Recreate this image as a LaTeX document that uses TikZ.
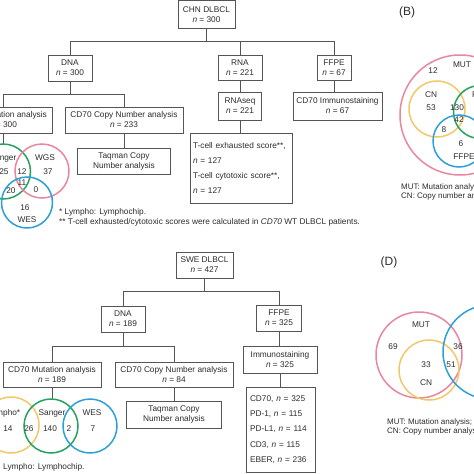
\documentclass[tikz,border=0pt]{standalone}
\usepackage{fontspec}
\setmainfont{Liberation Sans}
\definecolor{txt}{RGB}{45,45,45}
\definecolor{boxc}{RGB}{85,85,85}
\definecolor{pinkc}{RGB}{232,135,158}
\definecolor{greenc}{RGB}{40,160,95}
\definecolor{yellowc}{RGB}{242,200,105}
\definecolor{bluec}{RGB}{45,160,215}
\begin{document}
\begin{tikzpicture}[x=1pt,y=-1pt,
  every node/.style={font=\fontsize{8.3}{10}\selectfont, text=txt, inner sep=0pt},
  box/.style={draw=boxc, line width=1pt, align=center, fill=white},
  conn/.style={draw=boxc, line width=1pt},
  venn/.style={line width=1.5pt},
  note/.style={anchor=west, font=\fontsize{8.3}{9}\selectfont},
  captxt/.style={anchor=west, font=\fontsize{8}{9}\selectfont},
  panel/.style={font=\fontsize{12}{14}\selectfont}]
\path[use as bounding box] (0,0) rectangle (474,474);
\clip (0,0) rectangle (474,474);
\fill[white] (0,0) rectangle (474,474);

% ---------- Panel A (CHN) ----------
\node[box, minimum width=57, minimum height=28] (chn) at (206.5,14.5) {CHN DLBCL\\\textit{n} = 300};
\node[box, minimum width=44, minimum height=26] (dna) at (70,68) {DNA\\\textit{n} = 300};
\node[box, minimum width=44, minimum height=25] (rna) at (240,67.5) {RNA\\\textit{n} = 221};
\node[box, minimum width=34, minimum height=25] (ffpe) at (334,67.5) {FFPE\\\textit{n} = 67};
\node[box, minimum width=98, minimum height=26] (mut1) at (3,120) {CD70 Mutation analysis\\\textit{n} = 300};
\node[box, minimum width=118, minimum height=26] (cn1) at (124,120) {CD70 Copy Number analysis\\\textit{n} = 233};
\node[box, minimum width=93, minimum height=26] (taq1) at (124,161) {Taqman Copy\\Number analysis};
\node[box, minimum width=43, minimum height=28] (rnaseq) at (240,106) {RNAseq\\\textit{n} = 221};
\node[box, minimum width=89, minimum height=28] (immu1) at (337.5,106) {CD70 Immunostaining\\\textit{n} = 67};
\node[box, minimum width=102, minimum height=70, text width=96, align=left,
      font=\fontsize{8.3}{15.3}\selectfont] (tcell) at (241,168)
  {T-cell exhausted score**,\\\textit{n} = 127\\T-cell cytotoxic score**,\\\textit{n} = 127};

\coordinate (busA) at (0,41);
\coordinate (busB) at (0,94);
\draw[conn] (chn.south) -- (chn.south |- busA);
\draw[conn] (dna.north) -- (dna.north |- busA) -- (ffpe.north |- busA) -- (ffpe.north);
\draw[conn] (rna.north) -- (rna.north |- busA);
\draw[conn] (dna.south) -- (dna.south |- busB);
\draw[conn] (mut1.north) -- (mut1.north |- busB) -- (cn1.north |- busB) -- (cn1.north);
\draw[conn] (cn1.south) -- (taq1.north);
\draw[conn] (rna.south) -- (rnaseq.north);
\draw[conn] (rnaseq.south) -- (rnaseq.south |- tcell.north);
\draw[conn] (ffpe.south) -- (ffpe.south |- immu1.north);

% Venn A
\coordinate (gAtop) at (3,144);
\draw[conn] (mut1.south) -- (gAtop);
\draw[venn, greenc] (3,171.5) circle[radius=27.5];
\draw[venn, pinkc] (42,171) circle[radius=27];
\draw[venn, bluec] (27,202.5) circle[radius=25.5];
\node (aSanger) at (3,158) {Sanger};
\node (aWGS) at (45,158) {WGS};
\node (a25) at (4,172) {25};
\node (a12) at (22,172) {12};
\node (a37) at (48,172) {37};
\node (a11) at (22,183) {11};
\node (a20) at (11,191) {20};
\node (a0) at (36,190) {0};
\node (a16) at (25,208) {16};
\node (aWES) at (27,220) {WES};
\node[note] (fn1) at (59,212) {* Lympho: Lymphochip.};
\node[note] (fn2) at (59,222) {** T-cell exhausted/cytotoxic scores were calculated in \textit{CD70} WT DLBCL patients.};

% ---------- Panel B ----------
\node[panel] (pB) at (407,12) {(B)};
\draw[venn, pinkc] (460,115) circle[radius=60];
\draw[venn, yellowc] (437,109) circle[radius=28];
\draw[venn, greenc] (480,112) circle[radius=26.5];
\draw[venn, bluec] (459,141) circle[radius=26];
\node (bMUT) at (462,65) {MUT};
\node (b12) at (433,71) {12};
\node (bCN) at (431,95) {CN};
\node (b53) at (431,108) {53};
\node (bRNA) at (481,95) {RNA};
\node (b130) at (457,108) {130};
\node (b42) at (459,120) {42};
\node (b8) at (444,130) {8};
\node (b6) at (461,144) {6};
\node (bFFPE) at (464,157) {FFPE};
\node[captxt] (bcap1) at (401,187) {MUT: Mutation analysis;};
\node[captxt] (bcap2) at (401,196) {CN: Copy number analysis};

% ---------- Panel C (SWE) ----------
\node[box, minimum width=57, minimum height=26] (swe) at (204.5,265) {SWE DLBCL\\\textit{n} = 427};
\node[box, minimum width=44, minimum height=26] (dna2) at (123,319) {DNA\\\textit{n} = 189};
\node[box, minimum width=45, minimum height=26] (ffpe2) at (279,318) {FFPE\\\textit{n} = 325};
\node[box, minimum width=98, minimum height=25] (mut2) at (52,374.5) {CD70 Mutation analysis\\\textit{n} = 189};
\node[box, minimum width=118, minimum height=25] (cn2) at (174,374.5) {CD70 Copy Number analysis\\\textit{n} = 84};
\node[box, minimum width=95, minimum height=27] (taq2) at (174,414.5) {Taqman Copy\\Number analysis};
\node[box, minimum width=74, minimum height=27] (immu2) at (280,359.5) {Immunostaining\\\textit{n} = 325};
\node[box, minimum width=69, minimum height=85, text width=61, align=left,
      font=\fontsize{8.3}{15.4}\selectfont] (list) at (280.5,429.5)
  {CD70, \textit{n} = 325\\PD-1, \textit{n} = 115\\PD-L1, \textit{n} = 114\\CD3, \textit{n} = 115\\EBER, \textit{n} = 236};

\coordinate (busC) at (0,291);
\coordinate (busD) at (0,346);
\draw[conn] (swe.south) -- (swe.south |- busC);
\draw[conn] (dna2.north) -- (dna2.north |- busC) -- (ffpe2.north |- busC) -- (ffpe2.north);
\draw[conn] (dna2.south) -- (dna2.south |- busD);
\draw[conn] (mut2.north) -- (mut2.north |- busD) -- (cn2.north |- busD) -- (cn2.north);
\draw[conn] (cn2.south) -- (taq2.north);
\draw[conn] (ffpe2.south) -- (ffpe2.south |- immu2.north);
\draw[conn] (immu2.south) -- (immu2.south |- list.north);

% Venn C
\coordinate (gCtop) at (52,399);
\draw[conn] (mut2.south) -- (gCtop);
\draw[venn, yellowc] (11,425) circle[radius=28];
\draw[venn, greenc] (51,426) circle[radius=27];
\draw[venn, bluec] (90,426) circle[radius=27];
\node (cLympho) at (4,413) {Lympho*};
\node (cSanger) at (52,413) {Sanger};
\node (cWES) at (92,413) {WES};
\node (c14) at (8,429) {14};
\node (c26) at (29,429) {26};
\node (c140) at (50,429) {140};
\node (c2) at (69,429) {2};
\node (c7) at (93,429) {7};
\node[note] (cfn) at (3,467) {Lympho: Lymphochip.};

% ---------- Panel D ----------
\node[panel] (pD) at (389,262) {(D)};
\draw[venn, pinkc] (419,355) circle[radius=43];
\draw[venn, yellowc] (429,370) circle[radius=30];
\draw[venn, bluec] (490,352) circle[radius=47];
\node (dMUT) at (421,325) {MUT};
\node (d69) at (393,347) {69};
\node (d36) at (458,347) {36};
\node (d33) at (426,365) {33};
\node (d51) at (451,365) {51};
\node (dCN) at (426,383) {CN};
\node[captxt] (dcap1) at (387,422) {MUT: Mutation analysis;};
\node[captxt] (dcap2) at (387,431) {CN: Copy number analysis};
\end{tikzpicture}
\end{document}
